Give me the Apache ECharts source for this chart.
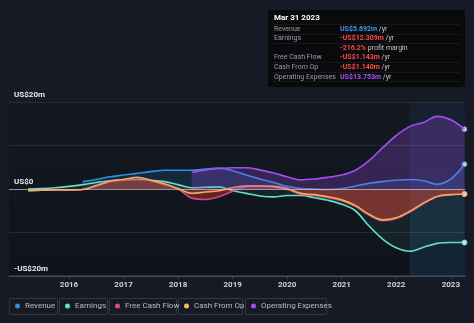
<!DOCTYPE html>
<html>
<head>
<meta charset="utf-8">
<script src="https://cdn.jsdelivr.net/npm/echarts@6/dist/echarts.min.js"></script>
<style>
  html, body { margin: 0; padding: 0; background: #151a24; }
  #chart { width: 474px; height: 323px; }
</style>
</head>
<body>
<div id="chart"></div>
<script>
// Quarter positions as fractional years (Q-end dates)
const quarters = [2015.25, 2015.5, 2015.75, 2016, 2016.25, 2016.5, 2016.75, 2017, 2017.25, 2017.5, 2017.75,
  2018, 2018.25, 2018.5, 2018.75, 2019, 2019.25, 2019.5, 2019.75, 2020, 2020.25, 2020.5, 2020.75,
  2021, 2021.25, 2021.5, 2021.75, 2022, 2022.25, 2022.5, 2022.75, 2023, 2023.25];

// Trailing twelve month figures, US$ millions
const revenue = [null, null, null, null, 1.7, 2.2, 2.8, 3.2, 3.6, 4.0, 4.3,
  4.3, 4.3, 4.6, 4.8, 4.2, 3.2, 2.3, 1.5, 0.6, 0.1, 0.0, -0.1,
  0.1, 0.7, 1.3, 1.7, 2.0, 2.2, 1.9, 1.1, 2.3, 5.692];
const earnings = [0.0, 0.1, 0.3, 0.6, 1.0, 1.5, 1.9, 2.1, 2.2, 2.0, 1.7,
  1.0, 0.3, 0.4, 0.5, -0.4, -1.0, -1.6, -1.8, -1.5, -1.5, -2.0, -2.6,
  -3.5, -5.0, -8.5, -11.5, -13.5, -14.3, -13.4, -12.5, -12.3, -12.309];
const freeCashFlow = [-0.4, -0.3, -0.2, -0.2, -0.1, 0.7, 1.7, 2.1, 2.6, 1.9, 1.0,
  0.0, -2.1, -2.4, -1.8, -0.5, 0.6, 0.7, 0.5, -0.1, -1.2, -1.5, -2.0,
  -2.7, -4.0, -6.0, -7.3, -6.8, -5.3, -3.4, -1.8, -1.3, -1.143];
const cashFromOp = [-0.4, -0.3, -0.2, -0.2, -0.1, 0.8, 1.8, 2.2, 2.7, 2.0, 1.2,
  0.1, -1.0, -0.7, -0.4, 0.3, 0.7, 0.7, 0.6, 0.1, -1.0, -1.3, -1.8,
  -2.5, -3.8, -5.8, -7.1, -6.6, -5.1, -3.2, -1.7, -1.3, -1.140];
const operatingExpenses = [null, null, null, null, null, null, null, null, null, null, null,
  null, 3.8, 4.4, 4.7, 4.9, 4.9, 4.4, 3.7, 2.8, 2.1, 2.3, 2.7,
  3.2, 4.3, 6.5, 9.5, 12.3, 14.4, 15.3, 16.7, 15.9, 13.753];

const yearTicks = [2016, 2017, 2018, 2019, 2020, 2021, 2022, 2023];
const seriesNames = ['Revenue', 'Earnings', 'Free Cash Flow', 'Cash From Op', 'Operating Expenses'];

// Summary panel rows for Mar 31 2023
const panelTitle = 'Mar 31 2023';
const panelRows = [
  { label: 'Revenue', value: 'US$5.692m', unit: ' /yr', color: '#3b9cf2' },
  { label: 'Earnings', value: '-US$12.309m', unit: ' /yr', color: '#ff4a4a' },
  { label: '', value: '-216.2%', unit: ' profit margin', color: '#ff4a4a' },
  { label: 'Free Cash Flow', value: '-US$1.143m', unit: ' /yr', color: '#ff4a4a' },
  { label: 'Cash From Op', value: '-US$1.140m', unit: ' /yr', color: '#ff4a4a' },
  { label: 'Operating Expenses', value: 'US$13.753m', unit: ' /yr', color: '#a855f7' }
];

const FONT = 'Roboto, "Noto Sans", sans-serif';
const lineColors = ['#2f8fe0', '#5fe0c8', '#c94a86', '#f3a860', '#a24ff0'];
const legendDotColors = ['#2f8fe0', '#5fe0c8', '#d0508a', '#f0c060', '#a24ff0'];
const fillColors = [
  'rgba(47,143,224,0.22)',
  'rgba(95,224,200,0.10)',
  'rgba(215,50,50,0.62)',
  'rgba(243,168,96,0.13)',
  'rgba(162,79,240,0.36)'
];
const seriesData = [revenue, earnings, freeCashFlow, cashFromOp, operatingExpenses];

function pairs(vals) {
  return quarters.map((q, i) => [q, vals[i]]).filter(p => p[1] !== null);
}

const series = seriesData.map((vals, i) => {
  const pts = pairs(vals);
  const last = pts[pts.length - 1];
  return {
    name: seriesNames[i],
    type: 'line',
    data: pts,
    smooth: 0.35,
    showSymbol: false,
    color: legendDotColors[i],
    lineStyle: { color: lineColors[i], width: 1.6 },
    areaStyle: { color: fillColors[i], origin: 0 },
    z: 2 + i,
    markPoint: {
      symbol: 'circle',
      symbolSize: 5,
      label: { show: false },
      itemStyle: { color: '#d8d8d8', borderColor: lineColors[i], borderWidth: 1 },
      data: [{ coord: last }]
    }
  };
});

// Zero line and last-year highlight band
series[0].markLine = {
  silent: true,
  symbol: 'none',
  label: { show: false },
  lineStyle: { color: 'rgba(235,235,235,0.55)', width: 1, type: 'solid' },
  data: [{ yAxis: 0 }]
};
series[0].markArea = {
  silent: true,
  itemStyle: {
    color: {
      type: 'linear', x: 0, y: 0, x2: 0, y2: 1,
      colorStops: [
        { offset: 0, color: 'rgba(50,90,150,0.12)' },
        { offset: 1, color: 'rgba(30,100,150,0.22)' }
      ]
    }
  },
  data: [[{ xAxis: 2022.25 }, { xAxis: 2023.26 }]]
};

// Legend chips
const chipBoxes = [[9, 57], [59, 107], [109, 176], [178, 242], [245, 326]];
const legends = seriesNames.map((name, i) => ({
  data: [name],
  left: chipBoxes[i][0] + 6,
  top: 302,
  padding: 0,
  icon: 'circle',
  itemWidth: 5,
  itemHeight: 5,
  selectedMode: false,
  textStyle: { color: '#b8bcc4', fontSize: 8, fontFamily: FONT }
}));

const graphics = chipBoxes.map(b => ({
  type: 'rect',
  shape: { x: b[0] + 0.5, y: 298.5, width: b[1] - b[0], height: 16, r: 1 },
  style: { fill: 'rgba(0,0,0,0)', stroke: 'rgba(255,255,255,0.13)', lineWidth: 1 },
  silent: true
}));

// Summary panel
const px = 268, py = 10, pw = 197, ph = 77;
const panelChildren = [
  { type: 'rect', shape: { x: px, y: py, width: pw, height: ph }, style: { fill: '#0a0a0c' } },
  { type: 'text', x: px + 6, y: py + 8, style: { text: panelTitle, fill: '#ffffff', font: 'bold 8px ' + FONT, textVerticalAlign: 'middle' } }
];
const rowY = [19.5, 28.5, 38, 47.5, 57.5, 67];
const sepY = [14.5, 24, 33, 52.5, 62.5, 71.5];
sepY.forEach(y => {
  panelChildren.push({ type: 'rect', shape: { x: px + 5, y: py + y, width: pw - 10, height: 0.6 }, style: { fill: 'rgba(255,255,255,0.12)' } });
});
panelRows.forEach((r, i) => {
  const y = py + rowY[i];
  if (r.label) {
    panelChildren.push({ type: 'text', x: px + 6, y: y, style: { text: r.label, fill: '#9a9ea6', font: '7px ' + FONT, textVerticalAlign: 'middle' } });
  }
  panelChildren.push({
    type: 'text', x: px + 72, y: y,
    style: {
      text: '{v|' + r.value + '}{u|' + r.unit + '}',
      textVerticalAlign: 'middle',
      rich: {
        v: { fill: r.color, font: 'bold 7px ' + FONT },
        u: { fill: '#c8c8c8', font: '7px ' + FONT }
      }
    }
  });
});
graphics.push({ type: 'group', children: panelChildren, silent: true, z: 100 });

const chart = echarts.init(document.getElementById('chart'), null, { renderer: 'canvas' });
chart.setOption({
  backgroundColor: '#151a24',
  animation: false,
  grid: {
    left: 9, right: 9, top: 102, bottom: 47,
    show: true, borderWidth: 0,
    backgroundColor: {
      type: 'linear', x: 0, y: 0, x2: 0, y2: 1,
      colorStops: [
        { offset: 0, color: 'rgba(10,12,18,0.15)' },
        { offset: 1, color: 'rgba(8,10,14,0.45)' }
      ]
    }
  },
  legend: legends,
  xAxis: {
    type: 'value',
    min: 2014.9,
    max: 2023.26,
    axisLine: { onZero: false, lineStyle: { color: '#3a404c', width: 1.5 } },
    axisTick: { show: true, customValues: yearTicks, length: 3, lineStyle: { color: '#3a404c' } },
    axisLabel: {
      customValues: yearTicks,
      color: '#d0d3d8', fontSize: 8, fontWeight: 'bold', fontFamily: FONT, margin: 5,
      formatter: v => String(v)
    },
    splitLine: { show: false }
  },
  yAxis: {
    type: 'value',
    min: -20,
    max: 20,
    interval: 10,
    axisLine: { show: false },
    axisTick: { show: false },
    axisLabel: {
      inside: true,
      margin: 5,
      verticalAlign: 'bottom',
      padding: [0, 0, 3, 0],
      color: '#e8e8ea', fontSize: 8, fontWeight: 'bold', fontFamily: FONT,
      formatter: v => v === 20 ? 'US$20m' : v === 0 ? 'US$0' : v === -20 ? '-US$20m' : ''
    },
    splitLine: { lineStyle: { color: 'rgba(255,255,255,0.09)', width: 1 } },
    z: 10
  },
  series: series,
  graphic: graphics
});
</script>
</body>
</html>
